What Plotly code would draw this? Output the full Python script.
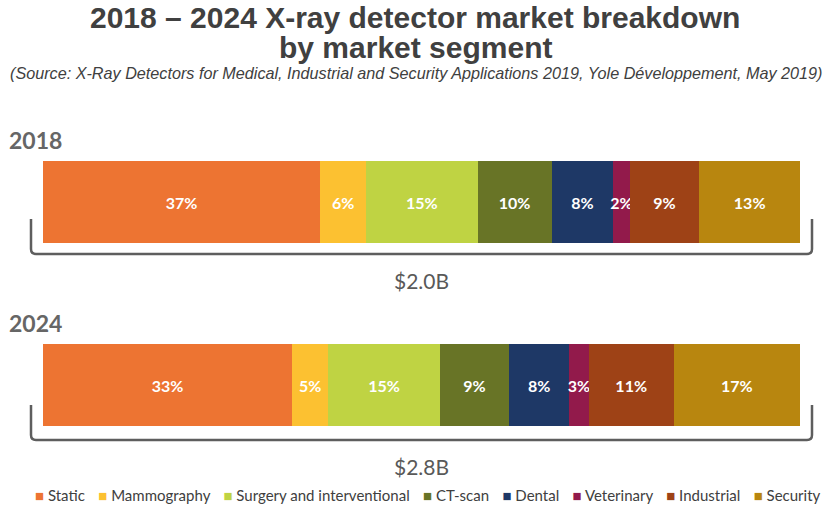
import plotly.graph_objects as go

# ---------------- data ----------------
segments = ["Static", "Mammography", "Surgery and interventional", "CT-scan",
            "Dental", "Veterinary", "Industrial", "Security"]
colors = ["#ED7432", "#FCC131", "#BFD343", "#687426",
          "#1E3866", "#921A4B", "#9E4216", "#B8860F"]
years = ["2018", "2024"]
share_2018 = [36.6, 6.1, 14.7, 9.8, 8.1, 2.2, 9.2, 13.3]
share_2024 = [32.9, 4.8, 14.7, 9.2, 7.9, 2.6, 11.2, 16.7]
labels_2018 = ["37%", "6%", "15%", "10%", "8%", "2%", "9%", "13%"]
labels_2024 = ["33%", "5%", "15%", "9%", "8%", "3%", "11%", "17%"]
totals = ["$2.0B", "$2.8B"]

W, H = 832, 510
def px(x):
    return x / W
def py(y):
    return 1 - y / H

fig = go.Figure()
for i, name in enumerate(segments):
    fig.add_trace(go.Bar(
        y=years, x=[share_2018[i], share_2024[i]], name=name, orientation="h",
        marker=dict(color=colors[i], line=dict(width=0)),
        text=[labels_2018[i], labels_2024[i]],
        textposition="inside", insidetextanchor="middle", textangle=0,
        constraintext="none",
        textfont=dict(family="Lato", size=16, color="white", weight="bold"),
        showlegend=False, hoverinfo="skip",
    ))

shapes = []
annotations = []

# brackets
def bracket(x0, x1, ytop, ybot, r=5):
    return (f"M {px(x0)},{py(ytop)} L {px(x0)},{py(ybot - r)} "
            f"Q {px(x0)},{py(ybot)} {px(x0 + r)},{py(ybot)} "
            f"L {px(x1 - r)},{py(ybot)} "
            f"Q {px(x1)},{py(ybot)} {px(x1)},{py(ybot - r)} "
            f"L {px(x1)},{py(ytop)}")

for (ytop, ybot) in [(219, 254), (405, 440)]:
    shapes.append(dict(type="path", xref="paper", yref="paper",
                       path=bracket(31, 812, ytop, ybot),
                       line=dict(color="#5E5E5E", width=2.5)))

# year labels and totals
for yr, yc in zip(years, [140, 323]):
    annotations.append(dict(text=f"<b>{yr}</b>", x=px(7), y=py(yc), xref="paper", yref="paper",
                            xanchor="left", yanchor="middle", showarrow=False,
                            font=dict(family="Lato", size=23, color="#666666", weight=900)))
for t, yc in zip(totals, [280, 466]):
    annotations.append(dict(text=t, x=px(421), y=py(yc), xref="paper", yref="paper",
                            xanchor="center", yanchor="middle", showarrow=False,
                            font=dict(family="Lato", size=21, color="#595959")))

# title
annotations.append(dict(text="<b>2018 – 2024 X-ray detector market breakdown</b>",
                        x=px(415), y=py(18), xref="paper", yref="paper",
                        xanchor="center", yanchor="middle", showarrow=False,
                        font=dict(family="Liberation Sans", size=30, color="#404040")))
annotations.append(dict(text="<b>by market segment</b>",
                        x=px(415), y=py(47), xref="paper", yref="paper",
                        xanchor="center", yanchor="middle", showarrow=False,
                        font=dict(family="Liberation Sans", size=30, color="#404040")))
annotations.append(dict(text="<i>(Source: X-Ray Detectors for Medical, Industrial and Security Applications 2019, Yole Développement, May 2019)</i>",
                        x=px(416), y=py(73), xref="paper", yref="paper",
                        xanchor="center", yanchor="middle", showarrow=False,
                        font=dict(family="Liberation Sans", size=16.2, color="#404040")))

# legend
parts = [f'<span style="color:{c};font-size:15px">■</span> {n}' for n, c in zip(segments, colors)]
annotations.append(dict(text="   \u2009".join(parts), x=px(428), y=py(495), xref="paper", yref="paper",
                        xanchor="center", yanchor="middle", showarrow=False,
                        font=dict(family="Lato", size=15, color="#404040")))

fig.update_layout(
    width=W, height=H, margin=dict(l=0, r=0, t=0, b=0),
    paper_bgcolor="white", plot_bgcolor="white",
    barmode="stack", bargap=0.552,
    xaxis=dict(range=[0, 100], domain=[px(43), px(800)], visible=False, fixedrange=True),
    yaxis=dict(type="category", categoryorder="array", categoryarray=["2024", "2018"],
               range=[-0.5, 1.5], domain=[(H - 476.5) / H, (H - 110.5) / H],
               visible=False, fixedrange=True),
    shapes=shapes, annotations=annotations, showlegend=False,
)

fig.write_html("out.html")
